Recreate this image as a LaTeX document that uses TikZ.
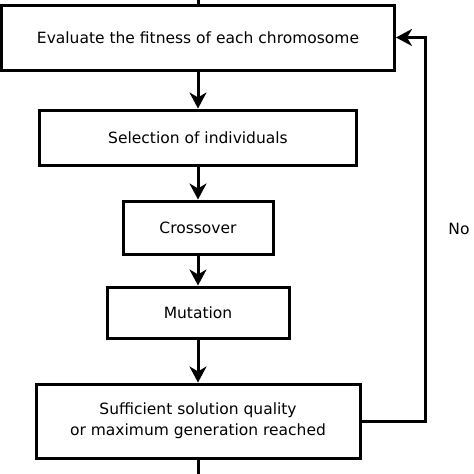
\documentclass[tikz,border=0pt]{standalone}
\usepackage{fontspec}
\setmainfont{DejaVu Sans}
\usepackage{tikz}
\usetikzlibrary{arrows.meta, positioning}

\begin{document}
\begin{tikzpicture}[x=1pt, y=1pt,
        stepbox/.style={rectangle, draw=black, line width=3pt, fill=white, inner sep=0pt, align=center, font=\fontsize{15.5}{21}\selectfont},
        flow/.style={line width=3pt, -{Stealth[length=16pt, width=17pt, inset=5pt]}}]
    \useasboundingbox (0,0) rectangle (474,-474);
    \coordinate (top) at (198,0);
    \coordinate (bottom) at (198,-474);
    \node[stepbox, minimum width=393pt, minimum height=65pt] (evaluate) at (198,-37.5) {Evaluate the fitness of each chromosome};
    \node[stepbox, minimum width=317pt, minimum height=55pt] (selection) at (198,-137.5) {Selection of individuals};
    \node[stepbox, minimum width=150pt, minimum height=53pt] (crossover) at (198,-227.5) {Crossover};
    \node[stepbox, minimum width=182pt, minimum height=51pt] (mutation) at (198,-312.5) {Mutation};
    \node[stepbox, minimum width=324pt, minimum height=74pt] (check) at (198,-421) {Sufficient solution quality \\ or maximum generation reached};
    \node[font=\fontsize{15.5}{21}\selectfont] (no) at (459,-229) {No};
    \draw[line width=3pt] (top) -- (evaluate);
    \draw[flow] (evaluate) -- (selection);
    \draw[flow] (selection) -- (crossover);
    \draw[flow] (crossover) -- (mutation);
    \draw[flow] (mutation) -- (check);
    \draw[line width=3pt] (check) -- (bottom);
    \draw[flow] (check.east) -- ++(64,0) |- (evaluate.east);
\end{tikzpicture}
\end{document}
